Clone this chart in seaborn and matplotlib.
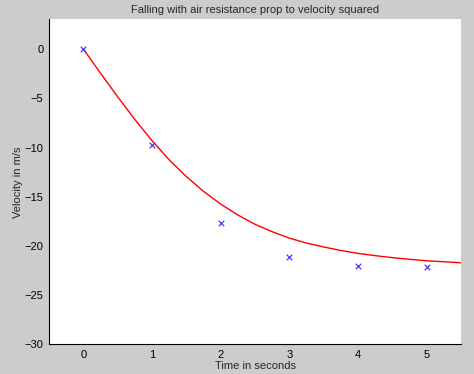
import numpy as np
import pandas as pd
import seaborn as sns
from matplotlib import pyplot as plt

# measured points (blue crosses)
t_meas = [0, 1, 2, 3, 4, 5]
v_meas = [0, -9.77, -17.67, -21.16, -22.04, -22.15]

# model curve (red line)
t_model = [0, 0.25, 0.5, 0.75, 1, 1.25, 1.5, 1.75, 2, 2.25, 2.5, 2.75,
           3, 3.25, 3.5, 3.75, 4, 4.25, 4.5, 4.75, 5, 5.25, 5.5]
v_model = [0, -2.45, -4.85, -7.15, -9.3, -11.25, -12.95, -14.45, -15.75, -16.85,
           -17.8, -18.55, -19.2, -19.7, -20.1, -20.45, -20.75, -20.98, -21.18,
           -21.35, -21.5, -21.6, -21.7]

sns.set_style('white')
plt.rcParams['font.family'] = ['Liberation Sans', 'DejaVu Sans']
plt.rcParams['font.size'] = 8

fig = plt.figure(figsize=(4.74, 3.74), dpi=100, facecolor='#cccccc')
ax = fig.add_axes([0.1034, 0.0789, 0.8692, 0.869])
ax.set_facecolor('white')

df_model = pd.DataFrame({'t': t_model, 'v': v_model})
df_meas = pd.DataFrame({'t': t_meas, 'v': v_meas})

sns.lineplot(data=df_model, x='t', y='v', color='red', linewidth=1, ax=ax)
sns.scatterplot(data=df_meas, x='t', y='v', marker='x', color='#4040f0',
                s=16, linewidth=0.9, ax=ax, zorder=3)

ax.set_xlim(-0.5, 5.5)
ax.set_ylim(-30, 3)
ax.set_xticks([0, 1, 2, 3, 4, 5])
ax.set_yticks([0, -5, -10, -15, -20, -25, -30])
ax.tick_params(direction='in', length=4, width=0.8, color='black',
               labelsize=8, labelcolor='black', pad=4)

for side in ['top', 'right']:
    ax.spines[side].set_visible(False)
for side in ['left', 'bottom']:
    ax.spines[side].set_color('black')
    ax.spines[side].set_linewidth(0.8)

ax.set_title('Falling with air resistance prop to velocity squared', fontsize=8, pad=5)
ax.set_xlabel('Time in seconds', fontsize=8, labelpad=1)
ax.set_ylabel('Velocity in m/s', fontsize=8, labelpad=1)

plt.savefig('out.png', dpi=100, facecolor=fig.get_facecolor())
plt.close()
